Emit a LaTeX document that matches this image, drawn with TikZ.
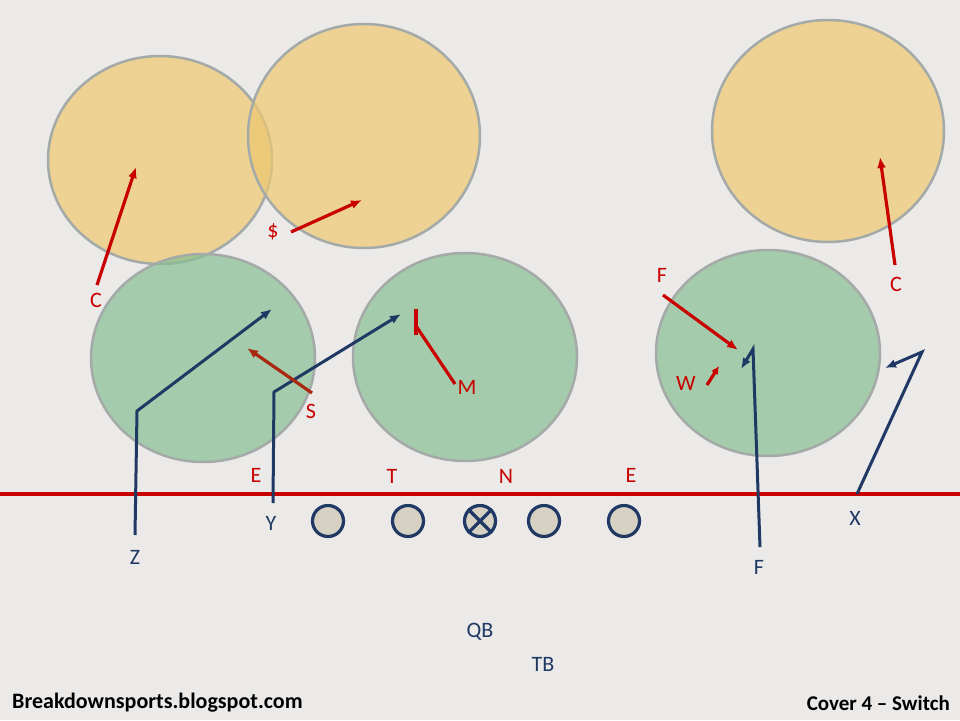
\documentclass[tikz,border=0pt]{standalone}
\usepackage{fontspec}
\setmainfont{Carlito}
\usepackage{tikz}
\usetikzlibrary{arrows.meta}
\definecolor{fieldbg}{HTML}{EBEAE8}
\definecolor{deepzone}{HTML}{EEC86F}
\definecolor{underzone}{HTML}{86BE92}
\definecolor{zoneline}{HTML}{A4AAA8}
\definecolor{defred}{HTML}{C80000}
\definecolor{defdark}{HTML}{A82810}
\definecolor{offblue}{HTML}{1F3864}
\definecolor{manfill}{HTML}{D6D1C2}
\newcommand{\DEF}[0]{defred}
\newcommand{\OFF}[0]{offblue}

\begin{document}
\begin{tikzpicture}[x=1pt, y=-1pt,
  deep/.style={fill=deepzone, fill opacity=0.7, draw=zoneline, line width=2.5pt},
  under/.style={fill=underzone, fill opacity=0.7, draw=zoneline, line width=2.5pt},
  lineman/.style={circle, draw=\OFF, fill=manfill, line width=3.2pt, minimum size=31pt, inner sep=0pt},
  dlab/.style={text=\DEF, font=\fontsize{22}{26}\selectfont, inner sep=0pt},
  olab/.style={text=\OFF, font=\fontsize{22}{26}\selectfont, inner sep=0pt},
  foot/.style={font=\fontsize{22}{26}\selectfont\bfseries, inner sep=0pt},
  route/.style={draw=\OFF, line width=3pt},
  drop/.style={draw=\DEF, line width=3.2pt},
  arr/.style={-{Latex[length=11pt,width=9pt]}}]

  \fill[fieldbg] (0,0) rectangle (960,720);
  \useasboundingbox (0,0) rectangle (960,720);

  %% deep quarters
  \draw[deep] (160,160) ellipse [x radius=112, y radius=104]; % C left
  \draw[deep] (364,136) ellipse [x radius=116, y radius=112]; % $
  \draw[deep] (828,131) ellipse [x radius=116, y radius=111]; % C right

  %% underneath zones
  \draw[under] (203,358) ellipse [x radius=112, y radius=104]; % S
  \draw[under] (465,357) ellipse [x radius=112, y radius=104]; % M
  \draw[under] (768,353) ellipse [x radius=112, y radius=103]; % W

  %% line of scrimmage
  \coordinate (losl) at (0,494);
  \coordinate (losr) at (960,494);
  \draw[defred, line width=3.2pt] (losl) -- (losr);

  %% offensive line
  \node[lineman] (lg) at (328,521) {};
  \node[lineman] (lt) at (408,521) {};
  \node[lineman] (oc) at (480,521) {};
  \node[lineman] (rg) at (544,521) {};
  \node[lineman] (rt) at (624,521) {};
  \draw[\OFF, line width=3.2pt] (oc.45) -- (oc.225);
  \draw[\OFF, line width=3.2pt] (oc.135) -- (oc.315);

  %% front
  \node[dlab] (el) at (256,475) {E};
  \node[dlab] (dt) at (392,476) {T};
  \node[dlab] (dn) at (506,476) {N};
  \node[dlab] (er) at (631,475) {E};

  %% offense
  \node[olab] (y) at (271,523) {Y};
  \node[olab] (z) at (135,557) {Z};
  \node[olab] (f) at (759,567) {F};
  \node[olab] (x) at (855,518) {X};
  \node[olab] (qb) at (480,632) {QB};
  \node[olab] (tb) at (543,664) {TB};

  %% routes
  \coordinate (zs) at (135,535);
  \coordinate (zb) at (137,411);
  \coordinate (ze) at (272,309);
  \draw[route, arr] (zs) -- (zb) -- (ze); % Z

  \coordinate (ys) at (273,503);
  \coordinate (yb) at (274,392);
  \coordinate (ye) at (401,314);
  \draw[route, arr] (ys) -- (yb) -- (ye); % Y

  \coordinate (fs) at (760,547);
  \coordinate (fb) at (753,349);
  \coordinate (fe) at (741,369);
  \draw[route, arr] (fs) -- (fb) -- (fe); % F

  \coordinate (xs) at (857,494);
  \coordinate (xb) at (922,352);
  \coordinate (xe) at (885,368);
  \draw[route, arr] (xs) -- (xb) -- (xe); % X

  %% coverage
  \node[dlab] (cl) at (96,300) {C};
  \coordinate (clt) at (97,285);
  \coordinate (clh) at (136,167);
  \draw[drop, arr] (clt) -- (clh); % C left

  \node[dlab] (ss) at (273,232) {\$};
  \coordinate (sst) at (291,232);
  \coordinate (ssh) at (362,200);
  \draw[drop, arr] (sst) -- (ssh); % $

  \node[dlab] (s) at (311,411) {S};
  \coordinate (st) at (312,393);
  \coordinate (sh) at (247,348);
  \draw[defdark, line width=3.2pt, arr] (st) -- (sh); % S

  \node[dlab] (m) at (467,387) {M};
  \coordinate (mt) at (455,384);
  \coordinate (mh) at (416,326);
  \coordinate (mbt) at (416,309);
  \coordinate (mbb) at (416,335);
  \draw[drop] (mt) -- (mh); % M
  \draw[drop] (mbt) -- (mbb);

  \node[dlab] (fsaf) at (662,275) {F};
  \coordinate (fst) at (663,295);
  \coordinate (fsh) at (738,350);
  \draw[drop, arr] (fst) -- (fsh); % F

  \node[dlab] (w) at (686,383) {W};
  \coordinate (wt) at (707,385);
  \coordinate (wh) at (719,366);
  \draw[drop, -{Latex[length=8pt,width=8pt]}] (wt) -- (wh); % W

  \node[dlab] (cr) at (896,284) {C};
  \coordinate (crt) at (895,265);
  \coordinate (crh) at (880,157);
  \draw[drop, arr] (crt) -- (crh); % C right

  %% footer
  \node[foot, anchor=west] (site) at (12,703) {Breakdownsports.blogspot.com};
  \node[foot, anchor=east, font=\fontsize{21}{25}\selectfont\bfseries] (cover) at (950,703) {Cover 4 -- Switch};

\end{tikzpicture}
\end{document}
